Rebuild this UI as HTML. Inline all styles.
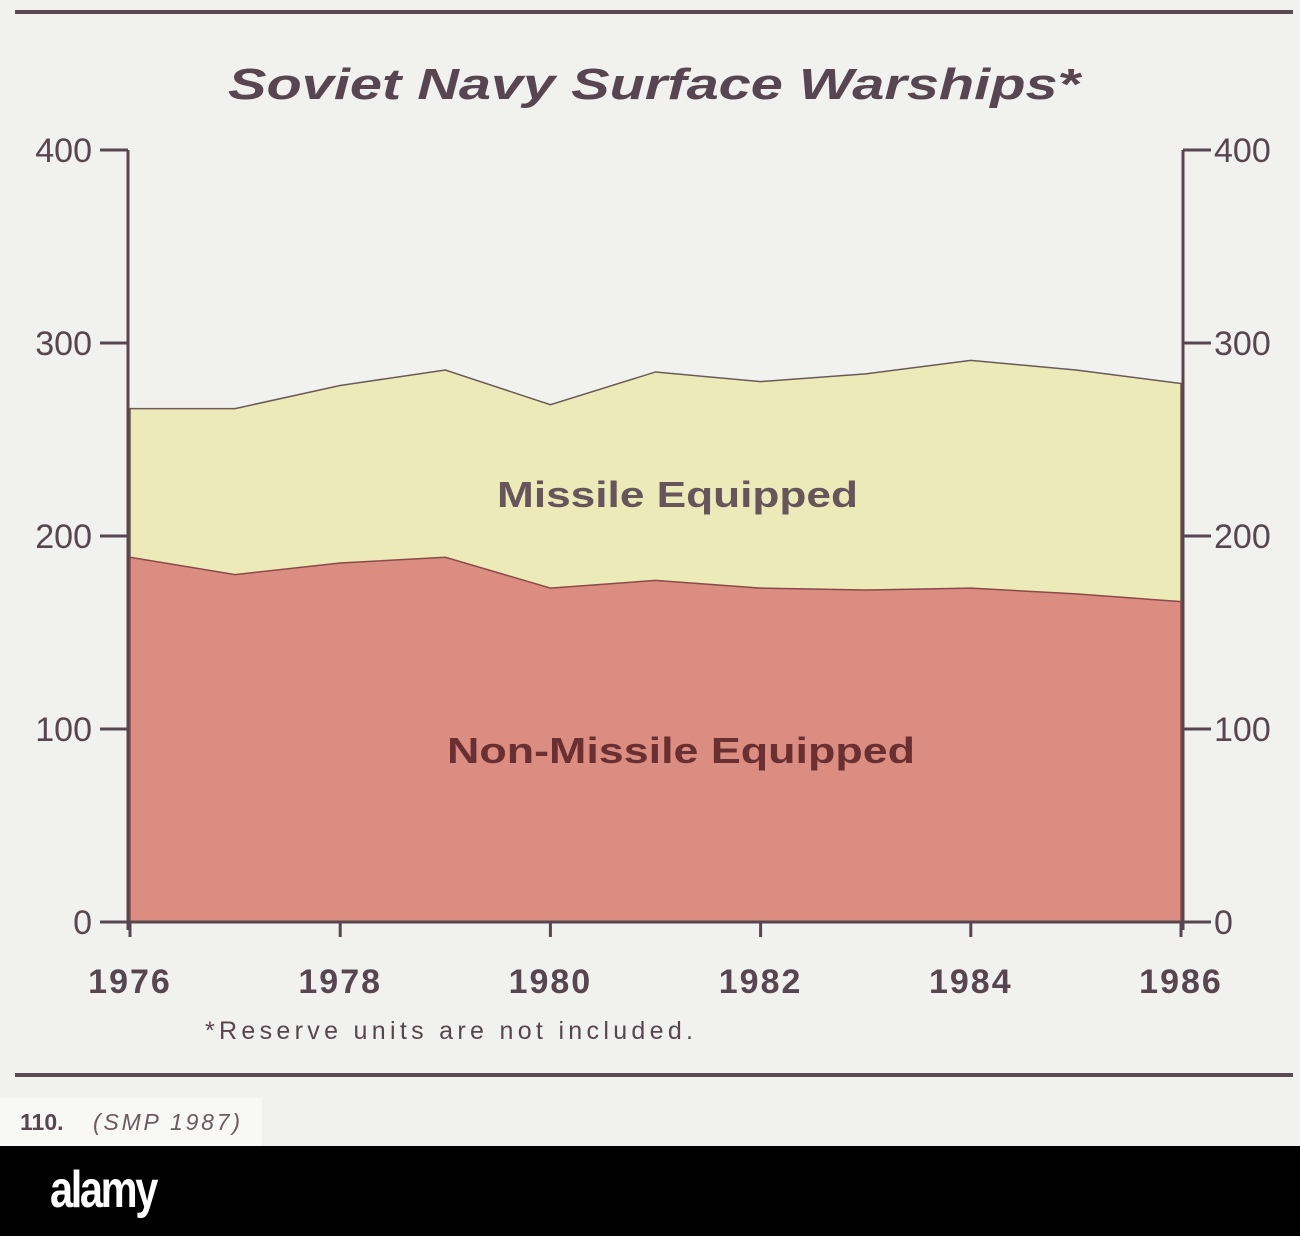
<!DOCTYPE html>
<html><head><meta charset="utf-8"><style>
body{margin:0;width:1300px;height:1236px;background:#f1f1ef;position:relative;overflow:hidden;font-family:"Liberation Sans",sans-serif}
#footer{position:absolute;left:0;top:1146px;width:1300px;height:90px;background:#000}
</style></head><body>
<svg width="1300" height="1146" style="position:absolute;left:0;top:0">
<rect x="0" y="0" width="1300" height="1146" fill="#f1f1ef"/>
<rect x="15" y="10" width="1278" height="4" fill="#5a4a52"/>
<rect x="15" y="1073" width="1278" height="4" fill="#5a4a52"/>
<rect x="0" y="1098" width="262" height="48" fill="#f8f8f7"/>
<text x="228" y="99" textLength="852" lengthAdjust="spacingAndGlyphs" font-size="44" font-weight="bold" font-style="italic" fill="#574650">Soviet Navy Surface Warships*</text>
<g id="areas"></g>
<g id="axes" stroke="#574650" stroke-width="3" fill="none"></g>
<g id="labels" fill="#574650"></g>
<text x="497" y="507" textLength="361" lengthAdjust="spacingAndGlyphs" font-size="36" font-weight="bold" fill="#66555a">Missile Equipped</text>
<text x="447" y="763" textLength="468" lengthAdjust="spacingAndGlyphs" font-size="36" font-weight="bold" fill="#6a2f30">Non-Missile Equipped</text>
<text x="205" y="1039" textLength="488" lengthAdjust="spacing" font-size="25" fill="#574650">*Reserve units are not included.</text>
<text x="20" y="1130" font-size="23" font-weight="bold" fill="#574650">110.</text>
<text x="93" y="1130" textLength="147" font-size="23" font-style="italic" fill="#6a5a62">(SMP 1987)</text>
</svg>
<div id="footer"><div style="position:absolute;left:50px;top:14px;color:#fff;font-size:52px;font-weight:bold;letter-spacing:-3px;transform:scaleX(0.8);transform-origin:left">alamy</div></div>
<script>
const years=[1976,1977,1978,1979,1980,1981,1982,1983,1984,1985,1986];
const totalShips=[266,266,278,286,268,285,280,284,291,286,279];
const nonMissile=[189,180,186,189,173,177,173,172,173,170,166];
const yTicks=[0,100,200,300,400];
const xTicks=[1976,1978,1980,1982,1984,1986];
const NS='http://www.w3.org/2000/svg';
const X=y=>130+(y-1976)*105.1;
const Y=v=>922-v*1.93;
function mk(t,a,p){const e=document.createElementNS(NS,t);for(const k in a)e.setAttribute(k,a[k]);p.appendChild(e);return e;}
const areas=document.getElementById('areas');
let d='M'+X(years[0])+','+Y(0);
years.forEach((y,i)=>d+='L'+X(y)+','+Y(totalShips[i]));
d+='L'+X(years[years.length-1])+','+Y(0)+'Z';
let m=mk('path',{d:d,fill:'#eceab9',stroke:'#6a5a55','stroke-width':1.5},areas);


let d2='M'+X(years[0])+','+Y(0);
years.forEach((y,i)=>d2+='L'+X(y)+','+Y(nonMissile[i]));
d2+='L'+X(years[years.length-1])+','+Y(0)+'Z';
let n=mk('path',{d:d2,fill:'#dc8d82',stroke:'#8a4a48','stroke-width':1.5},areas);


const ax=document.getElementById('axes'),lb=document.getElementById('labels');
mk('line',{x1:128,y1:Y(400),x2:128,y2:Y(0)+8},ax);
mk('line',{x1:1183,y1:Y(400),x2:1183,y2:Y(0)+8},ax);
mk('line',{x1:128,y1:Y(0),x2:1183,y2:Y(0)},ax);
yTicks.forEach(v=>{
 mk('line',{x1:100,y1:Y(v),x2:128,y2:Y(v)},ax);
 mk('line',{x1:1183,y1:Y(v),x2:1211,y2:Y(v)},ax);
 let t=mk('text',{x:92,y:Y(v)+12,'text-anchor':'end','font-size':34},lb);t.textContent=v;
 
 
 let t2=mk('text',{x:1214,y:Y(v)+12,'font-size':34},lb);t2.textContent=v;
 
 
});
xTicks.forEach(y=>{
 mk('line',{x1:X(y),y1:Y(0),x2:X(y),y2:Y(0)+15},ax);
 let t=mk('text',{x:X(y),y:993,'text-anchor':'middle','font-weight':'bold','font-size':34,'letter-spacing':2},lb);t.textContent=y;
 
 
});
</script>
</body></html>
